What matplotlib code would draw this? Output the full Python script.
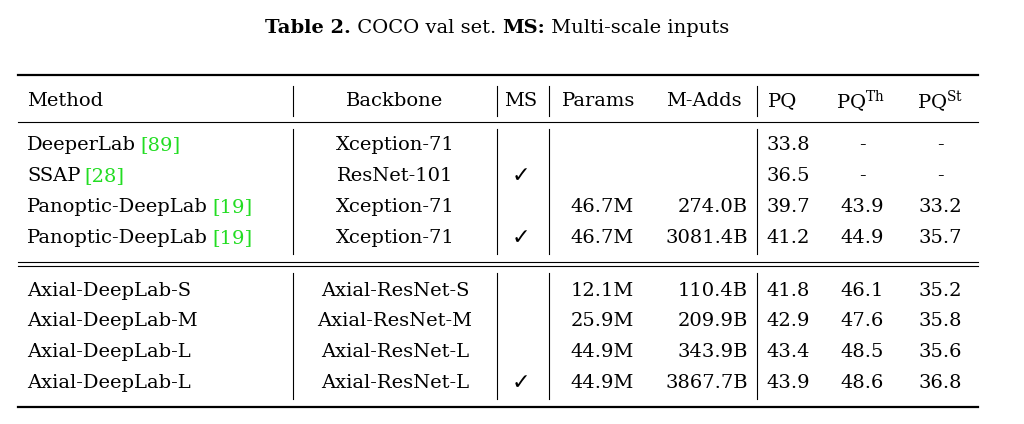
import matplotlib
matplotlib.use("Agg")
import matplotlib.pyplot as plt

plt.rcParams["font.family"] = ["DejaVu Serif", "DejaVu Sans"]
plt.rcParams["mathtext.fontset"] = "dejavuserif"

methods = ["DeeperLab", "SSAP", "Panoptic-DeepLab", "Panoptic-DeepLab",
           "Axial-DeepLab-S", "Axial-DeepLab-M", "Axial-DeepLab-L", "Axial-DeepLab-L"]
cites = ["[89]", "[28]", "[19]", "[19]", "", "", "", ""]
backbones = ["Xception-71", "ResNet-101", "Xception-71", "Xception-71",
             "Axial-ResNet-S", "Axial-ResNet-M", "Axial-ResNet-L", "Axial-ResNet-L"]
ms = [False, True, False, True, False, False, False, True]
params = ["", "", "46.7M", "46.7M", "12.1M", "25.9M", "44.9M", "44.9M"]
madds = ["", "", "274.0B", "3081.4B", "110.4B", "209.9B", "343.9B", "3867.7B"]
pq = ["33.8", "36.5", "39.7", "41.2", "41.8", "42.9", "43.4", "43.9"]
pq_th = ["-", "-", "43.9", "44.9", "46.1", "47.6", "48.5", "48.6"]
pq_st = ["-", "-", "33.2", "35.7", "35.2", "35.8", "35.6", "36.8"]
title_parts = [("Table 2.", "bold"), (" COCO val set. ", "normal"),
               ("MS:", "bold"), (" Multi-scale inputs", "normal")]

row_y = [145, 176, 207, 238, 291, 321, 352, 383]
fs = 14

fig = plt.figure(figsize=(10.24, 4.24), dpi=100)
ax = fig.add_axes([0, 0, 1, 1])
ax.set_xlim(0, 1024)
ax.set_ylim(424, 0)
ax.axis("off")
fig.canvas.draw()
renderer = fig.canvas.get_renderer()
inv = ax.transData.inverted()


def right_edge(t):
    bb = t.get_window_extent(renderer)
    return inv.transform((bb.x1, bb.y0))[0]


# title, drawn piece by piece then centred
pieces = []
x = 0
for s, w in title_parts:
    t = ax.text(x, 28, s, ha="left", va="center", fontsize=fs, weight=w)
    pieces.append(t)
    x = right_edge(t)
shift = 497 - x / 2
for t in pieces:
    t.set_x(t.get_position()[0] + shift)

# rules
ax.plot([18, 978], [75, 75], color="black", lw=1.6)
ax.plot([18, 978], [122, 122], color="black", lw=0.8)
ax.plot([18, 978], [262, 262], color="black", lw=0.8)
ax.plot([18, 978], [266, 266], color="black", lw=0.8)
ax.plot([18, 978], [407, 407], color="black", lw=1.6)
for xv in [293, 497, 549, 757]:
    for y0, y1 in [(86, 116), (129, 254), (273, 399)]:
        ax.plot([xv, xv], [y0, y1], color="black", lw=0.8)

# header
hy = 101
ax.text(27, hy, "Method", ha="left", va="center", fontsize=fs)
ax.text(395, hy, "Backbone", ha="center", va="center", fontsize=fs)
ax.text(521, hy, "MS", ha="center", va="center", fontsize=fs)
ax.text(599, hy, "Params", ha="center", va="center", fontsize=fs)
ax.text(704, hy, "M-Adds", ha="center", va="center", fontsize=fs)
ax.text(783, hy, "PQ", ha="center", va="center", fontsize=fs)
ax.text(860, hy, r"PQ$^{\mathrm{Th}}$", ha="center", va="center", fontsize=fs)
ax.text(940, hy, r"PQ$^{\mathrm{St}}$", ha="center", va="center", fontsize=fs)

for i, y in enumerate(row_y):
    t = ax.text(27, y, methods[i], ha="left", va="center", fontsize=fs)
    if cites[i]:
        ax.text(right_edge(t) + 4, y, cites[i], ha="left", va="center",
                fontsize=fs, color="#22dd22")
    ax.text(395, y, backbones[i], ha="center", va="center", fontsize=fs)
    if ms[i]:
        ax.text(521, y, "\u2713", ha="center", va="center", fontsize=fs + 2,
                family=["DejaVu Sans"])
    ax.text(634, y, params[i], ha="right", va="center", fontsize=fs)
    ax.text(748, y, madds[i], ha="right", va="center", fontsize=fs)
    ax.text(766, y, pq[i], ha="left", va="center", fontsize=fs)
    ax.text(862, y, pq_th[i], ha="center", va="center", fontsize=fs)
    ax.text(940, y, pq_st[i], ha="center", va="center", fontsize=fs)

fig.savefig("out.png", dpi=100, facecolor="white")
